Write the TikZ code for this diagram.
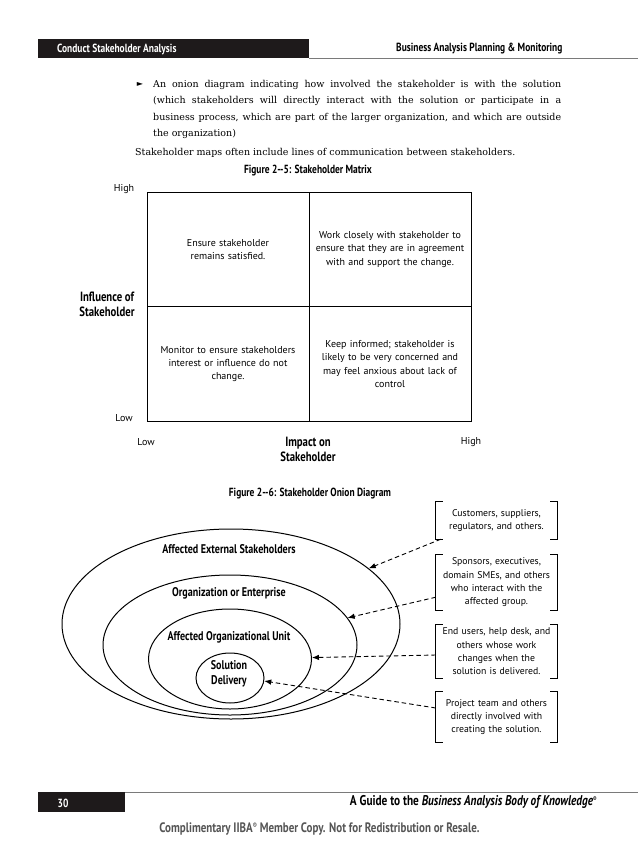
\documentclass[tikz,border=0pt]{standalone}
\usepackage{fontspec}
\setmainfont{DejaVu Serif}
\newfontfamily\msans{PT Sans}
\newfontfamily\mcond[FakeStretch=0.8]{PT Sans}
\newfontfamily\msym{DejaVu Sans}
\usetikzlibrary{shapes.geometric,arrows.meta}
\definecolor{rulegrey}{HTML}{7A7A7A}
\definecolor{footgrey}{HTML}{555555}
\definecolor{barblack}{HTML}{1E1A1B}
\begin{document}
\begin{tikzpicture}[x=1pt,y=-1pt,
  hdr/.style={font=\mcond\bfseries\fontsize{11.8}{13}\selectfont, inner sep=0pt},
  body/.style={font=\fontsize{9.5}{16.5}\selectfont, inner sep=0pt},
  figtitle/.style={font=\mcond\bfseries\fontsize{11.8}{13}\selectfont, inner sep=0pt},
  axis/.style={font=\msans\fontsize{10}{11}\selectfont, inner sep=0pt},
  axtitle/.style={font=\mcond\bfseries\fontsize{13.4}{15}\selectfont, inner sep=0pt, align=center},
  quad/.style={draw=black, line width=0.7pt, minimum width=162pt, minimum height=114.5pt, inner sep=0pt, align=center, text width=155pt, font=\msans\fontsize{10}{13.3}\selectfont},
  ring/.style={ellipse, draw, line width=1pt, inner sep=0pt},
  ringlabel/.style={font=\mcond\bfseries\fontsize{12.6}{15}\selectfont, inner sep=0pt, align=center},
  callout/.style={minimum width=121pt, inner sep=0pt, align=center, text width=120pt, font=\msans\fontsize{9.75}{13.3}\selectfont},
  bracket/.style={line width=1.1pt},
  arr/.style={line width=0.9pt, dash pattern=on 4.5pt off 3pt, -{Latex[length=7pt,width=5.5pt]}},
]
\useasboundingbox (0,0) rectangle (638,851);
\fill[white] (0,0) rectangle (638,851);

% header
\fill[barblack] (38,39) rectangle (309,58);
\draw[rulegrey, line width=1.5pt] (309,58.5) -- (638,58.5);
\node[hdr, text=white, anchor=west] (hl) at (57,49) {Conduct Stakeholder Analysis};
\node[hdr, anchor=west] (hr) at (396,49) {Business Analysis Planning \& Monitoring};

% body text
\node[inner sep=0pt, font=\msym\fontsize{8}{9}\selectfont] (bul) at (140,84) {►};
\node[body, anchor=base west, text width=408pt, align=justify] (para1) at (153,87)
 {An onion diagram indicating how involved the stakeholder is with the solution\linebreak
  (which stakeholders will directly interact with the solution or participate in a\linebreak
  business process, which are part of the larger organization, and which are outside\linebreak
  the organization)};
\node[body, anchor=base west] (para2) at (135,155)
 {Stakeholder maps often include lines of communication between stakeholders.};

% Figure 2-5
\node[figtitle] (fig5) at (308,171) {Figure 2--5: Stakeholder Matrix};
\node[quad] (q1) at (228,249.5) {Ensure stakeholder\\remains satisfied.};
\node[quad] (q2) at (390,249.5) {Work closely with stakeholder to\\ensure that they are in agreement\\with and support the change.};
\node[quad] (q3) at (228,364) {Monitor to ensure stakeholders\\interest or influence do not\\change.};
\node[quad] (q4) at (390,364) {Keep informed; stakeholder is\\likely to be very concerned and\\may feel anxious about lack of\\control};
\node[axis] (yhigh) at (124,189) {High};
\node[axis] (ylow) at (124,418) {Low};
\node[axtitle] (ytitle) at (107,304.5) {Influence of\\Stakeholder};
\node[axis] (xlow) at (146,442) {Low};
\node[axis] (xhigh) at (471,442) {High};
\node[axtitle] (xtitle) at (308,449.5) {Impact on\\Stakeholder};

% Figure 2-6
\node[figtitle] (fig6) at (310,494) {Figure 2--6: Stakeholder Onion Diagram};
\node[ring, minimum width=338pt, minimum height=190pt] (outer) at (231,624) {};
\node[ring, minimum width=254pt, minimum height=140pt] (org) at (230,645) {};
\node[ring, minimum width=163pt, minimum height=100pt] (unit) at (230,659) {};
\node[ring, minimum width=68pt, minimum height=50pt] (sol) at (230,678) {};
\node[ringlabel] (louter) at (229,549) {Affected External Stakeholders};
\node[ringlabel] (lorg) at (229,593) {Organization or Enterprise};
\node[ringlabel] (lunit) at (229,637) {Affected Organizational Unit};
\node[ringlabel] (lsol) at (229,673.5) {Solution\\Delivery};

\node[callout, minimum height=37pt] (c1) at (496.5,520.5) {Customers, suppliers,\\regulators, and others.};
\node[callout, minimum height=55pt] (c2) at (496.5,582.5) {Sponsors, executives,\\domain SMEs, and others\\who interact with the\\affected group.};
\node[callout, minimum height=53pt] (c3) at (496.5,651.5) {End users, help desk, and\\others whose work\\changes when the\\solution is delivered.};
\node[callout, minimum height=50pt] (c4) at (496.5,717) {Project team and others\\directly involved with\\creating the solution.};
\foreach \c in {c1,c2,c3,c4}{
  \draw[bracket] ([xshift=7pt]\c.north west) -- (\c.north west) -- (\c.south west) -- ([xshift=7pt]\c.south west);
  \draw[bracket] ([xshift=-7pt]\c.north east) -- (\c.north east) -- (\c.south east) -- ([xshift=-7pt]\c.south east);
}
\draw[arr] ([xshift=5pt]c1.south west) -- (outer.22);
\draw[arr] ([yshift=13pt]c2.south west) -- (org.13);
\draw[arr] ([yshift=-3.5pt]c3.west) -- (unit.1);
\draw[arr] ([yshift=9pt]c4.west) -- (sol.-5);

% footer
\fill[barblack] (38,792) rectangle (125,812);
\draw[rulegrey, line width=1.5pt] (125,792.5) -- (638,792.5);
\node[hdr, text=white] (pnum) at (63,803) {30};
\node[font=\mcond\bfseries\fontsize{14.1}{15}\selectfont, inner sep=0pt, anchor=east] (guide) at (597,802) {A Guide to the \textit{Business Analysis Body of Knowledge}\raisebox{0.6ex}{\fontsize{6.5}{6.5}\selectfont ®}};
\node[font=\mcond\bfseries\fontsize{13.7}{16}\selectfont, text=footgrey, inner sep=0pt] (copy) at (319.5,829) {Complimentary IIBA\raisebox{0.6ex}{\fontsize{7.5}{7.5}\selectfont ®} Member Copy. Not for Redistribution or Resale.};
\end{tikzpicture}
\end{document}
